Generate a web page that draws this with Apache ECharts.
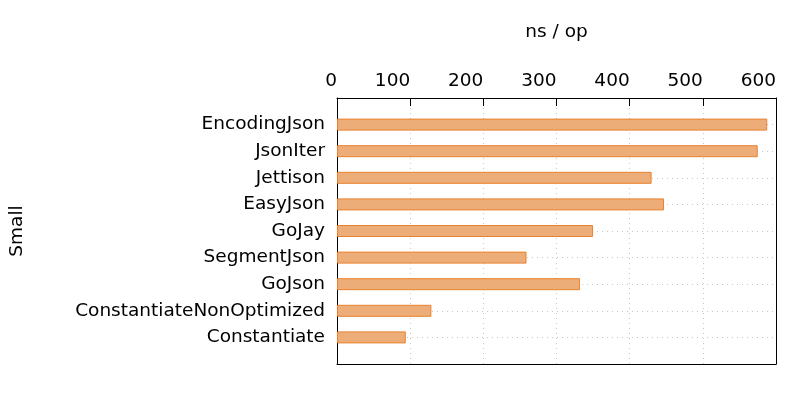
<!DOCTYPE html>
<html>
<head>
<meta charset="utf-8">
<style>
  html, body { margin: 0; padding: 0; background: #fff; }
  #chart { width: 800px; height: 400px; }
</style>
<script src="https://cdn.jsdelivr.net/npm/echarts@6/dist/echarts.min.js"></script>
</head>
<body>
<div id="chart"></div>
<script>
// benchmark names, top to bottom
var benchmarks = ['EncodingJson', 'JsonIter', 'Jettison', 'EasyJson', 'GoJay',
    'SegmentJson', 'GoJson', 'ConstantiateNonOptimized', 'Constantiate'];
// ns / op, same order
var nsPerOp = [588, 575, 430, 447, 350, 259, 332, 129, 94];
var xTicks = [0, 100, 200, 300, 400, 500, 600];

// pad with empty slots so the bars sit half a step in from the frame
var cats = [''].concat(benchmarks, ['']);
var vals = [null].concat(nsPerOp, [null]);

var font = 'DejaVu Sans';
var fs = 18.5;
var chart = echarts.init(document.getElementById('chart'));

// plain frame axis (bottom / right side of the box)
function frameAxis(extra) {
    return Object.assign({
        axisLine: { show: true, onZero: false, lineStyle: { color: '#000' } },
        axisTick: { show: false },
        axisLabel: { show: false },
        splitLine: { show: false }
    }, extra);
}

chart.setOption({
    animation: false,
    grid: { left: 337, right: 24, top: 98, bottom: 36, outerBoundsMode: 'none', containLabel: false },
    xAxis: [{
        type: 'value',
        position: 'top',
        min: xTicks[0],
        max: xTicks[xTicks.length - 1],
        interval: 100,
        name: 'ns / op',
        nameLocation: 'middle',
        nameGap: 56,
        nameTextStyle: { fontFamily: font, fontSize: fs, color: '#000' },
        axisLine: { show: true, onZero: false, lineStyle: { color: '#000' } },
        axisTick: { show: true, inside: true, length: 8, lineStyle: { color: '#000' } },
        axisLabel: { fontFamily: font, fontSize: fs, color: '#000', align: 'right', margin: 7 },
        splitLine: { show: true, lineStyle: { color: '#c8c8c8', type: [1, 4] } }
    }, frameAxis({ type: 'value', position: 'bottom', min: 0, max: 600 })],
    yAxis: [{
        type: 'category',
        data: cats,
        inverse: true,
        boundaryGap: false,
        name: 'Small',
        nameLocation: 'middle',
        nameGap: 310,
        nameRotate: 90,
        nameTextStyle: { fontFamily: font, fontSize: fs, color: '#000' },
        axisLine: { show: true, onZero: false, lineStyle: { color: '#000' } },
        axisTick: { show: false },
        axisLabel: { fontFamily: font, fontSize: fs, color: '#000', margin: 12 },
        splitLine: { show: true, lineStyle: { color: '#c8c8c8', type: [1, 4] } }
    }, frameAxis({ type: 'category', data: cats, position: 'right', boundaryGap: false })],
    series: [{
        type: 'bar',
        data: vals,
        barWidth: 12,
        itemStyle: { color: '#edad78', borderColor: '#e8822e', borderWidth: 1 }
    }]
});
</script>
</body>
</html>
